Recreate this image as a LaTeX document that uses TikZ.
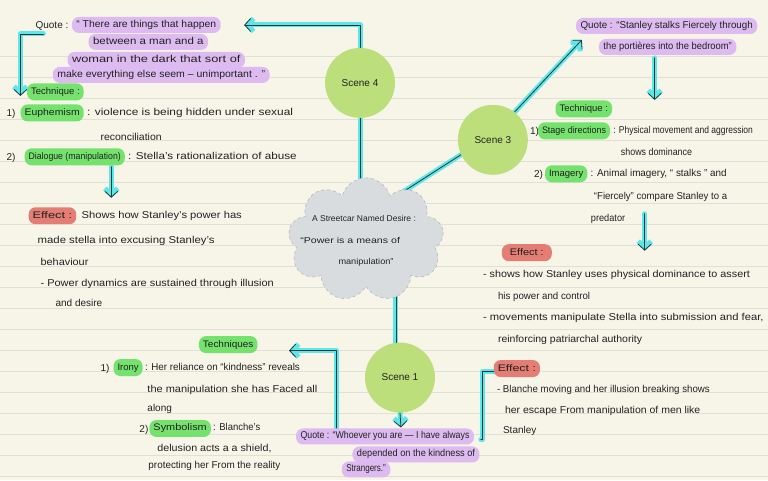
\documentclass[tikz,border=0pt]{standalone}
\usepackage{fontspec}
\setmainfont{Liberation Sans}
\usetikzlibrary{arrows.meta,shapes.symbols,calc}
\definecolor{bgc}{HTML}{F7F4E8}
\definecolor{rulec}{HTML}{E2DFD4}
\definecolor{ink}{HTML}{222222}
\definecolor{purp}{HTML}{DDBBF0}
\definecolor{grn}{HTML}{74E26C}
\definecolor{redp}{HTML}{E47D74}
\definecolor{scn}{HTML}{BCDF7C}
\definecolor{cloudc}{HTML}{D9DCDF}
\definecolor{cloudd}{HTML}{AEB3B8}
\definecolor{cyanc}{HTML}{5FE6E8}
\definecolor{linkd}{HTML}{1D3B3C}
\newcommand{\hsc}[2]{\scalebox{#1}[1]{#2}}
\pgfdeclarelayer{rules}
\pgfdeclarelayer{links}
\pgfsetlayers{rules,links,main}
\tikzset{
  txt/.style={font=\fontsize{10}{12}\selectfont, text=ink, inner sep=0pt, anchor=base west},
  pill/.style={font=\fontsize{9.5}{11}\selectfont, text=ink, rounded corners=7pt, inner xsep=4pt, inner ysep=3.5pt, text height=7.5pt, text depth=2.5pt},
  qpill/.style={pill, fill=purp, font=\fontsize{10}{12}\selectfont, inner ysep=3pt, inner xsep=4.5pt},
  gpill/.style={pill, fill=grn},
  rpill/.style={pill, fill=redp},
  scene/.style={circle, fill=scn, minimum size=70pt, inner sep=0pt, font=\fontsize{10}{12}\selectfont, text=ink},
  link/.style={line width=5pt, draw=cyanc, line cap=round, line join=round, postaction={draw=linkd, line width=0.8pt}},
  tipped/.style={-{Straight Barb[length=6pt 0, width=13pt 0]}}
}
\begin{document}
\begin{tikzpicture}[x=1pt,y=-1pt]
\begin{pgfonlayer}{rules}
\fill[bgc] (0,0) rectangle (768,481);
\foreach \y in {57,78,...,477} \draw[rulec, line width=0.9pt] (0,\y) -- (768,\y);
\end{pgfonlayer}
\useasboundingbox (0,0) rectangle (768,481);

% scenes and cloud
\node[scene] (s4) at (360,83) {Scene 4};
\node[scene] (s3) at (493,140) {Scene 3};
\node[scene] (s1) at (400,378) {Scene 1};
\node[cloud, cloud puffs=9, aspect=1.25, fill=cloudc, draw=cloudd, dashed, line width=0.5pt, minimum width=156pt, minimum height=124pt] (cloud) at (366,240) {};
\node[txt, anchor=base, font=\fontsize{8.5}{10}\selectfont] (ct1) at (364,222) {A Streetcar Named Desire :};
\node[txt, font=\fontsize{8.5}{10}\selectfont] (ct2) at (300,244) {\hsc{1.25}{“Power is a means of}};
\node[txt, anchor=base, font=\fontsize{8.5}{10}\selectfont] (ct3) at (366,265) {\hsc{1.08}{manipulation”}};

% top-left block (Scene 4)
\node[txt] (ql4) at (35,29) {Quote :};
\node[qpill] (q4a) at (146,25) {\hsc{1.04}{“ There are things that happen}};
\node[qpill] (q4b) at (148,42) {\hsc{1.15}{between a man and a}};
\node[qpill] (q4c) at (156,60) {\hsc{1.28}{woman in the dark that sort of}};
\node[qpill] (q4d) at (161,75) {\hsc{1.05}{make everything else seem – unimportant . ”}};
\node[gpill] (tech4) at (55,92) {Technique :};
\node[txt] (n41) at (6,117) {1)};
\node[gpill, anchor=west] (euph) at (20,113) {\hsc{1.1}{Euphemism}};
\node[txt] (t41) at ($(euph.base east)+(3,0)$) {\hsc{1.19}{: violence is being hidden under sexual}};
\node[txt] (t41b) at (100,141) {\hsc{1.05}{reconciliation}};
\node[txt] (n42) at (6,161) {2)};
\node[gpill, anchor=west] (dial) at (24,157) {\hsc{0.92}{Dialogue (manipulation)}};
\node[txt] (t42) at ($(dial.base east)+(3,0)$) {\hsc{1.17}{: Stella's rationalization of abuse}};
\node[rpill, anchor=west] (eff4) at (28,216) {\hsc{1.35}{Effect :}};
\node[txt] (e41) at ($(eff4.base east)+(5,0)$) {\hsc{1.12}{Shows how Stanley's power has}};
\node[txt] (e42) at (37,244) {\hsc{1.14}{made stella into excusing Stanley's}};
\node[txt] (e43) at (40,266) {\hsc{1.09}{behaviour}};
\node[txt] (e44) at (40,287) {\hsc{1.1}{- Power dynamics are sustained through illusion}};
\node[txt] (e45) at (55,307) {and desire};

% top-right block (Scene 3)
\node[qpill] (q3a) at (667,26) {\hsc{0.98}{Quote : “Stanley stalks Fiercely through}};
\node[qpill] (q3b) at (668,47) {\hsc{0.94}{the portières into the bedroom”}};
\node[gpill] (tech3) at (584,109) {Technique :};
\node[txt] (n31) at (530,135) {1)};
\node[gpill, anchor=west] (stage) at (538,131) {\hsc{0.94}{Stage directions}};
\node[txt] (t31) at ($(stage.base east)+(3,0)$) {\hsc{0.85}{: Physical movement and aggression}};
\node[txt] (t31b) at (621,156) {\hsc{0.89}{shows dominance}};
\node[txt] (n32) at (534,178) {2)};
\node[gpill, anchor=west] (imag) at (545,174) {Imagery};
\node[txt] (t32) at ($(imag.base east)+(3,0)$) {\hsc{0.99}{: Animal imagery, “ stalks ” and}};
\node[txt] (t32b) at (594,200) {\hsc{0.96}{“Fiercely” compare Stanley to a}};
\node[txt] (t32c) at (591,222) {\hsc{0.92}{predator}};
\node[rpill, minimum width=50pt] (eff3) at (527,253) {\hsc{1.15}{Effect :}};
\node[txt] (e31) at (483,278) {\hsc{1.08}{- shows how Stanley uses physical dominance to assert}};
\node[txt] (e32) at (498,300) {\hsc{0.97}{his power and control}};
\node[txt] (e33) at (483,321) {\hsc{1.12}{- movements manipulate Stella into submission and fear,}};
\node[txt] (e34) at (498,343) {\hsc{1.05}{reinforcing patriarchal authority}};

% bottom block (Scene 1)
\node[gpill] (tech1) at (228,345) {\hsc{1.05}{Techniques}};
\node[txt] (n11) at (100,372) {1)};
\node[gpill, anchor=west] (irony) at (113,368) {Irony};
\node[txt] (t11) at ($(irony.base east)+(2,0)$) {\hsc{0.98}{: Her reliance on “kindness” reveals}};
\node[txt] (t11b) at (147,393) {\hsc{1.1}{the manipulation she has Faced all}};
\node[txt] (t11c) at (147,412) {along};
\node[txt] (n12) at (139,433) {2)};
\node[gpill, anchor=west] (symb) at (149,429) {\hsc{1.15}{Symbolism}};
\node[txt] (t12) at ($(symb.base east)+(2,0)$) {\hsc{0.95}{: Blanche's}};
\node[txt] (t12b) at (157,452) {\hsc{1.07}{delusion acts a a shield,}};
\node[txt] (t12c) at (148,469) {\hsc{0.99}{protecting her From the reality}};
\node[qpill] (q1a) at (385,437) {\hsc{0.88}{Quote : “Whoever you are — I have always}};
\node[qpill] (q1b) at (416,455) {\hsc{0.92}{depended on the kindness of}};
\node[qpill] (q1c) at (366,470) {\hsc{0.8}{Strangers.”}};
\node[rpill] (eff1) at (517,369) {\hsc{1.3}{Effect :}};
\node[txt] (e11) at (497,393) {\hsc{0.97}{- Blanche moving and her illusion breaking shows}};
\node[txt] (e12) at (505,414) {\hsc{1.05}{her escape From manipulation of men like}};
\node[txt] (e13) at (503,434) {Stanley};

% connector free ends
\coordinate (tip4) at (244,25);
\coordinate (c4a) at (43,34);
\coordinate (tip4b) at (20,96);
\coordinate (c4c) at (111,167);
\coordinate (tip4c) at (111,198);
\coordinate (tip3) at (582,40);
\coordinate (c3a) at (655,58);
\coordinate (tip3a) at (655,100);
\coordinate (c3b) at (645,214);
\coordinate (tip3b) at (645,251);
\coordinate (c1a) at (336,430);
\coordinate (tip1a) at (289,351);
\coordinate (c1b) at (481,440);
\coordinate (c1c) at (500,372);
\coordinate (tip1d) at (401,428);

\begin{pgfonlayer}{links}
\draw[link, tipped] (s4.north) |- (tip4);
\draw[link] (s4.south) -- (s4.south |- cloud.center);
\draw[link] ($(cloud.center)+(34,-46)$) -- (s3.205);
\draw[link, tipped] (s3.52) -- (tip3);
\draw[link] ($(cloud.center)+(30,0)$) -- ($(s1.north)+(-4,10)$);
\draw[link, tipped] (s1.south) -- (tip1d);
\draw[link, tipped] (c4a) -| (tip4b);
\draw[link, tipped] (c4c) -- (tip4c);
\draw[link, tipped] (c3a) -- (tip3a);
\draw[link, tipped] (c3b) -- (tip3b);
\draw[link, tipped] (c1a) |- (tip1a);
\draw[link] (c1b) -- ++(2,0) |- (c1c);
\end{pgfonlayer}
\end{tikzpicture}
\end{document}
